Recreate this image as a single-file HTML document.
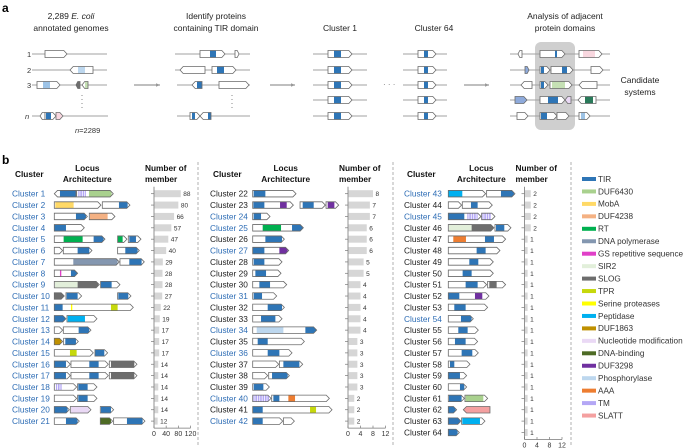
<!DOCTYPE html>
<html><head><meta charset="utf-8"><style>
html,body{margin:0;padding:0;background:#fff;}
svg{display:block;font-family:"Liberation Sans",Arial,sans-serif;}
</style></head><body>
<svg id="fig" width="685" height="448" viewBox="0 0 685 448" xmlns="http://www.w3.org/2000/svg">
<g id="pa">
<text x="2" y="12" font-size="12" font-weight="bold">a</text>
<text x="71" y="19" font-size="8.5" text-anchor="middle" fill="#222">2,289 <tspan font-style="italic">E. coli</tspan></text>
<text x="71" y="31" font-size="8.5" text-anchor="middle" fill="#222">annotated genomes</text>
<text x="216" y="19" font-size="8.5" text-anchor="middle" fill="#222">Identify proteins</text>
<text x="216" y="31" font-size="8.5" text-anchor="middle" fill="#222">containing TIR domain</text>
<text x="340" y="31" font-size="8.5" text-anchor="middle" fill="#222">Cluster 1</text>
<text x="434" y="31" font-size="8.5" text-anchor="middle" fill="#222">Cluster 64</text>
<text x="565" y="19" font-size="8.5" text-anchor="middle" fill="#222">Analysis of adjacent</text>
<text x="565" y="31" font-size="8.5" text-anchor="middle" fill="#222">protein domains</text>
<text x="640" y="83" font-size="8.5" text-anchor="middle" fill="#222">Candidate</text>
<text x="640" y="95" font-size="8.5" text-anchor="middle" fill="#222">systems</text>
<text x="27" y="57" font-size="7.5" fill="#333">1</text>
<text x="27" y="73" font-size="7.5" fill="#333">2</text>
<text x="27" y="88" font-size="7.5" fill="#333">3</text>
<text x="25" y="119" font-size="7.5" font-style="italic" fill="#333">n</text>
<text x="75" y="133" font-size="7.5" fill="#333"><tspan font-style="italic">n</tspan>=2289</text>
<rect x="535" y="42" width="40" height="88" rx="6" fill="#cfcfcf"/>
</g>
<g id="pb">
<text x="2" y="164" font-size="12" font-weight="bold">b</text>
</g>
</svg>
<script>
const NS='http://www.w3.org/2000/svg';
const svg=document.getElementById('fig');
const pa=document.getElementById('pa');
const pb=document.getElementById('pb');
const COL={TIR:'#2e75b6',DUF6430:'#a9d18e',MobA:'#ffd966',DUF4238:'#f4b183',RT:'#00b050',DNApol:'#8497b0',GS:'#e040c8',SIR2:'#e2efda',SLOG:'#6d6d6d',TPR:'#c6d80c',SerP:'#ffff00',Pept:'#00b0f0',DUF1863:'#bf9000',NucMod:'#ead9f5',DNAbind:'#4e6b25',DUF3298:'#7030a0',Phos:'#bdd7ee',AAA:'#ed7d31',TM:'#b4a7f5',SLATT:'#f4a0a0',LB:'#9dc3e6',PK:'#f8d7df',GR:'#2a7a5a',SL:'#8eaadb',LG:'#c5e0b4'};
const legendNames=['TIR','DUF6430','MobA','DUF4238','RT','DNA polymerase','GS repetitive sequence','SIR2','SLOG','TPR','Serine proteases','Peptidase','DUF1863','Nucleotide modification','DNA-binding','DUF3298','Phosphorylase','AAA','TM','SLATT'];
const legendKeys=['TIR','DUF6430','MobA','DUF4238','RT','DNApol','GS','SIR2','SLOG','TPR','SerP','Pept','DUF1863','NucMod','DNAbind','DUF3298','Phos','AAA','TM','SLATT'];
const clusters1=['Cluster 1','Cluster 2','Cluster 3','Cluster 4','Cluster 5','Cluster 6','Cluster 7','Cluster 8','Cluster 9','Cluster 10','Cluster 11','Cluster 12','Cluster 13','Cluster 14','Cluster 15','Cluster 16','Cluster 17','Cluster 18','Cluster 19','Cluster 20','Cluster 21'];
const members1=[88,80,66,57,47,40,29,28,28,27,22,19,17,17,17,14,14,14,14,14,12];
const ticks1=[0,40,80,120];
const clusters2=['Cluster 22','Cluster 23','Cluster 24','Cluster 25','Cluster 26','Cluster 27','Cluster 28','Cluster 29','Cluster 30','Cluster 31','Cluster 32','Cluster 33','Cluster 34','Cluster 35','Cluster 36','Cluster 37','Cluster 38','Cluster 39','Cluster 40','Cluster 41','Cluster 42'];
const members2=[8,7,7,6,6,6,5,5,4,4,4,4,4,3,3,3,3,3,2,2,2];
const ticks2=[0,4,8,12];
const clusters3=['Cluster 43','Cluster 44','Cluster 45','Cluster 46','Cluster 47','Cluster 48','Cluster 49','Cluster 50','Cluster 51','Cluster 52','Cluster 53','Cluster 54','Cluster 55','Cluster 56','Cluster 57','Cluster 58','Cluster 59','Cluster 60','Cluster 61','Cluster 62','Cluster 63','Cluster 64'];
const members3=[2,2,2,2,1,1,1,1,1,1,1,1,1,1,1,1,1,1,1,1,1,1];
const ticks3=[0,4,8,12];
const blue=['Cluster 24','Cluster 25','Cluster 27','Cluster 31','Cluster 34','Cluster 36','Cluster 40','Cluster 42','Cluster 43','Cluster 45','Cluster 54'];
const arch1=[
[[0,65,-1,[[17,65,'TIR']]],[67,177,1,[[72,95,'TM'],[104,172,'DUF6430']]]],
[[0,140,1,[[3,58,'MobA']]],[144,227,1,[[194,220,'TIR']]]],
[[0,99,1,[[65,95,'TIR']]],[105,182,1,[[107,160,'DUF4238']]]],
[[0,90,1,[[0,35,'TIR']]]],
[[0,152,1,[[28,85,'RT'],[118,148,'TIR']]],[190,218,1,[[190,205,'RT']]],[222,260,1,[[225,245,'TIR']]]],
[[0,25,1,[]],[27,113,1,[[70,105,'TIR']]],[190,255,1,[[213,250,'TIR']]]],
[[0,195,1,[[57,190,'DNApol']]],[197,270,1,[[225,262,'TIR']]]],
[[0,70,1,[[17,21,'GS'],[50,68,'TIR']]]],
[[0,135,1,[[2,70,'SIR2'],[70,132,'SLOG']]],[139,197,1,[[140,172,'TIR']]]],
[[0,30,1,[[0,28,'SLOG']]],[35,82,1,[[37,70,'TIR']]],[190,230,1,[[192,222,'TIR']]]],
[[0,237,1,[[0,25,'TIR'],[50,54,'SerP'],[170,190,'TPR']]]],
[[0,35,1,[[0,33,'TIR']]],[38,128,1,[[40,92,'Pept']]]],
[[0,25,1,[]],[27,110,1,[[73,105,'TIR']]]],
[[0,25,1,[[0,22,'DUF1863']]],[28,72,1,[[33,65,'TIR']]]],
[[0,117,1,[[47,67,'TPR']]],[122,160,1,[[122,150,'TIR']]]],
[[0,48,1,[[0,35,'TIR']]],[50,162,1,[[105,133,'TIR']]],[165,248,1,[[170,240,'SLOG']]]],
[[0,48,1,[[0,35,'TIR']]],[50,162,1,[[105,133,'TIR']]],[165,248,1,[[170,240,'SLOG']]]],
[[0,67,1,[[5,22,'TM']]],[70,128,1,[[72,100,'TIR']]]],
[[0,67,1,[]],[70,128,1,[[72,100,'TIR']]]],
[[0,45,1,[[0,40,'TIR']]],[48,110,1,[[50,105,'NucMod']]],[138,178,1,[[140,170,'TIR']]]],
[[0,75,1,[[35,70,'TIR']]],[138,175,1,[[138,170,'DNAbind']]],[178,272,1,[[218,265,'TIR']]]]];
const arch2=[
[[0,130,1,[[3,38,'TIR']]]],
[[0,122,1,[[2,35,'TIR'],[82,102,'DUF3298']]],[142,218,1,[[150,183,'TIR']]],[220,258,1,[[225,245,'DUF3298']]]],
[[0,52,1,[[3,25,'TIR']]]],
[[0,152,1,[[30,85,'RT'],[118,150,'TIR']]]],
[[0,95,1,[[38,88,'TIR']]]],
[[0,108,1,[[0,35,'TIR'],[80,105,'DUF3298']]]],
[[0,88,1,[[3,35,'TIR']]]],
[[0,85,1,[[8,40,'TIR']]]],
[[0,102,1,[[20,52,'TIR']]]],
[[0,72,1,[[3,28,'TIR']]]],
[[0,95,1,[[45,88,'TIR']]]],
[[0,88,1,[[25,68,'TIR']]]],
[[0,192,1,[[12,92,'Phos'],[158,190,'TIR']]]],
[[0,155,1,[[15,45,'TIR']]]],
[[0,118,1,[[45,80,'TIR']]]],
[[0,78,1,[]],[80,150,1,[[92,140,'TIR']]]],
[[0,45,1,[]],[48,110,1,[[58,105,'TIR']]]],
[[0,50,1,[[3,32,'TIR']]]],
[[0,55,1,[[2,50,'TM']]],[57,230,1,[[62,80,'TIR'],[107,127,'AAA']]]],
[[0,238,1,[[0,30,'TIR'],[172,190,'TPR']]]],
[[0,90,1,[[0,30,'TIR']]],[92,125,1,[]]]];
const arch3=[
[[0,112,1,[[0,42,'Pept']]],[115,200,1,[[158,197,'TIR']]]],
[[0,40,1,[]],[42,132,1,[[68,88,'TIR']]]],
[[0,98,1,[[0,48,'TIR'],[57,88,'TM']]],[100,140,1,[[102,128,'TM']]]],
[[0,137,1,[[2,70,'SIR2'],[70,135,'SLOG']]],[140,188,1,[[143,168,'TIR']]]],
[[0,172,1,[[15,53,'AAA'],[110,137,'TIR']]]],
[[0,155,1,[[85,112,'TIR']]]],
[[0,135,1,[[63,90,'TIR']]]],
[[0,135,1,[[43,70,'TIR']]]],
[[0,115,1,[[52,88,'TIR']]],[118,172,1,[[123,145,'SLOG']]]],
[[0,122,1,[[0,33,'TIR'],[80,102,'DUF3298']]]],
[[0,118,1,[[18,52,'TIR']]]],
[[0,75,1,[[38,70,'TIR']]]],
[[0,90,1,[[30,58,'TIR']]]],
[[0,88,1,[[20,52,'TIR']]]],
[[0,90,1,[[40,72,'TIR']]]],
[[0,65,1,[[5,18,'TIR']]]],
[[0,55,1,[[0,35,'TIR']]]],
[[0,55,1,[[35,48,'TIR']]]],
[[0,48,1,[[2,40,'TIR']]],[50,118,1,[[52,105,'DUF6430']]]],
[[0,25,1,[[0,22,'TIR']]],[45,125,-1,[[45,125,'SLATT']]]],
[[0,38,1,[[0,35,'TIR']]],[40,110,1,[[42,95,'Pept']]]],
[[0,33,1,[[0,28,'TIR']]]]];

let clipId=0;
function el(tag,attrs,parent){const e=document.createElementNS(NS,tag);for(const k in attrs)e.setAttribute(k,attrs[k]);(parent||svg).appendChild(e);return e;}
function gene(parent,x0,x1,yc,dir,doms,h,name){
  h=h||7;const hl=Math.min(3.2,(x1-x0)*0.45);const t=yc-h/2,b=yc+h/2;
  let d;
  if(dir>0)d=`M${x0},${t}L${x1-hl},${t}L${x1},${yc}L${x1-hl},${b}L${x0},${b}Z`;
  else d=`M${x0+hl},${t}L${x1},${t}L${x1},${b}L${x0+hl},${b}L${x0},${yc}Z`;
  const g=el('g',{},parent);
  
  
  const id='c'+(clipId++);
  const cp=el('clipPath',{id:id},g);el('path',{d:d},cp);
  el('path',{d:d,fill:'#fff'},g);
  doms.forEach(dm=>{
    const r=el('rect',{x:dm[0],y:t,width:Math.max(0.8,dm[1]-dm[0]),height:h,fill:COL[dm[2]],'clip-path':`url(#${id})`},g);
    
    
    if(dm[2]==='TM'){for(let sx=dm[0]+1.2;sx<dm[1];sx+=2.4)el('rect',{x:sx,y:t,width:0.8,height:h,fill:'#fff','clip-path':`url(#${id})`},g);}
  });
  el('path',{d:d,fill:'none',stroke:'#6a6a6a','stroke-width':0.8},g);
  return g;
}
const panels=[
 {names:clusters1,vals:members1,ticks:ticks1,arch:arch1,lx:12,ax:54.3,bx:154,scale:36.5/120,y0:193.7},
 {names:clusters2,vals:members2,ticks:ticks2,arch:arch2,lx:210,ax:252.7,bx:348,scale:37.5/12,y0:193.7},
 {names:clusters3,vals:members3,ticks:ticks3,arch:arch3,lx:404,ax:448.3,bx:524.5,scale:37.5/12,y0:193.7}];
const pitch=11.37;
panels.forEach((p,pi)=>{
  let tt=el('text',{x:p.lx+3,y:177,'font-size':8.3,'font-weight':'bold',fill:'#111'},pb);tt.textContent='Cluster';
  
  tt=el('text',{x:p.ax+33,y:171,'font-size':8.3,'font-weight':'bold','text-anchor':'middle',fill:'#111'},pb);tt.textContent='Locus';
  
  tt=el('text',{x:p.ax+33,y:182,'font-size':8.3,'font-weight':'bold','text-anchor':'middle',fill:'#111'},pb);tt.textContent='Architecture';
  
  tt=el('text',{x:p.bx-9,y:171,'font-size':8.3,'font-weight':'bold',fill:'#111'},pb);tt.textContent='Number of';
  
  tt=el('text',{x:p.bx-9,y:182,'font-size':8.3,'font-weight':'bold',fill:'#111'},pb);tt.textContent='member';
  
  const yscale=i=>p.y0+i*pitch;
  const xs=v=>p.bx+v*p.scale;
  const yEnd=yscale(p.names.length-1)+7;
  let ax=el('line',{x1:p.bx,x2:p.bx,y1:yscale(0)-7,y2:yEnd,stroke:'#777','stroke-width':0.8},pb);
  
  let bl=el('line',{x1:p.bx,x2:xs(p.ticks[p.ticks.length-1]),y1:yEnd,y2:yEnd,stroke:'#777','stroke-width':0.8},pb);
  
  p.ticks.forEach(t=>{
    el('line',{x1:xs(t),x2:xs(t),y1:yEnd,y2:yEnd-2.5,stroke:'#777','stroke-width':0.7},pb);
    const tl=el('text',{x:xs(t),y:yEnd+8,'font-size':7,'text-anchor':'middle',fill:'#333'},pb);tl.textContent=t;
    
  });
  p.names.forEach((n,i)=>{
    const y=yscale(i);
    const lab=el('text',{x:p.lx,y:y+3,'font-size':8.3,fill:(pi===0||blue.includes(n))?'#2e6db5':'#222'},pb);lab.textContent=n;
    
    
    el('line',{x1:p.bx-3,x2:p.bx,y1:y,y2:y,stroke:'#777','stroke-width':0.7},pb);
    const bar=el('rect',{x:p.bx+0.5,y:y-3.5,width:Math.max(0,xs(p.vals[i])-p.bx-0.5),height:7,fill:'#d6d6d6'},pb);
    
    
    const vl=el('text',{x:xs(p.vals[i])+2.5,y:y+2.5,'font-size':6.5,fill:'#333'},pb);vl.textContent=p.vals[i];
    
    p.arch[i].forEach(gn=>{
      gene(pb,p.ax+gn[0]/3,p.ax+gn[1]/3,y,gn[2],gn[3].map(d=>[p.ax+d[0]/3,p.ax+d[1]/3,d[2]]),6.5,'locus-gene');
    });
  });
});
[198,393,571].forEach(x=>{const l=el('line',{x1:x,x2:x,y1:162,y2:446,stroke:'#aaa','stroke-width':0.9,'stroke-dasharray':'3,2'},pb);
 });
legendNames.forEach((n,i)=>{
  const y=179+i*12.45;
  const s=el('rect',{x:582,y:y-2,width:14,height:4,fill:COL[legendKeys[i]]},pb);
  
  const t=el('text',{x:598,y:y+2.8,'font-size':8.2,fill:'#333'},pb);t.textContent=n;
  
});
function line(x1,x2,y,name){const l=el('line',{x1:x1,x2:x2,y1:y,y2:y,stroke:'#a0a0a0','stroke-width':1.1},pa);
 }
function arrow(x1,x2,y){const l=el('line',{x1:x1,x2:x2,y1:y,y2:y,stroke:'#999','stroke-width':1.2},pa);
 
 el('path',{d:`M${x2},${y}l-4,-1.8v3.6z`,fill:'#999'},pa);}
const rows=[54,70,85,100,116];
line(32,107,54);gene(pa,45,67,54,1,[],7);
line(32,107,70);gene(pa,70,93,70,-1,[[78,85,'Phos']],7);
line(32,107,85);gene(pa,37,60,85,1,[[43,50,'LB']],7);gene(pa,76,80,85,-1,[[76,80,'SLOG']],7);gene(pa,82,88,85,-1,[[85,88,'LG']],7);
line(32,108,116);gene(pa,40,45,116,-1,[],7);gene(pa,45,56,116,1,[[46,51,'TIR']],7);gene(pa,56,63,116,1,[[56,62,'PK']],7);
el('line',{x1:82,x2:82,y1:95,y2:110,stroke:'#888','stroke-width':1,'stroke-dasharray':'1,3'},pa);
arrow(134,160,85);
line(175,250,54);gene(pa,200,225,54,1,[[210,216,'TIR']],7);gene(pa,235,239,54,1,[],7);
line(175,250,70);gene(pa,180,205,70,-1,[],7);gene(pa,212,236,70,1,[[217,224,'TIR']],7);
line(177,250,85);gene(pa,192,202,85,-1,[[197,202,'TIR']],7);gene(pa,219,249,85,1,[],7);
line(177,250,116);gene(pa,190,200,116,1,[[192,195,'TIR']],7);gene(pa,200,211,116,-1,[[208,211,'TIR']],7);
el('line',{x1:232,x2:232,y1:95,y2:110,stroke:'#888','stroke-width':1,'stroke-dasharray':'1,3'},pa);
arrow(270,295,85);
rows.forEach(y=>{line(313,367,y);gene(pa,328,352,y,1,[[334,341,'TIR']],7);
  line(403,447,y);gene(pa,418,436,y,1,[[424,428,'TIR']],7);});
const dots=el('text',{x:383,y:87,'font-size':8,fill:'#777'},pa);dots.textContent='· · ·';

arrow(464,489,85);
rows.forEach(y=>line(510,610,y));
gene(pa,518,522,54,-1,[],7);gene(pa,540,565,54,1,[[555,557,'TIR']],7);gene(pa,579,602,54,1,[[583,595,'PK']],7);
gene(pa,525,529,70,1,[[525,529,'SL']],7);gene(pa,540,550,70,1,[[541,544,'TIR']],7);gene(pa,551,573,70,1,[[562,567,'TIR']],7);gene(pa,591,603,70,1,[],7);
gene(pa,521,532,85,-1,[],7);gene(pa,540,548,85,1,[[541,544,'TIR']],7);gene(pa,550,572,85,1,[[552,565,'LG']],7);gene(pa,579,597,85,-1,[],7);
gene(pa,515,527,100,1,[[515,527,'SL']],7);gene(pa,540,565,100,1,[[548,558,'TIR']],7);gene(pa,565,571,100,-1,[[565,571,'NucMod']],7);gene(pa,578,596,100,-1,[[585,593,'GR']],7);
gene(pa,517,528,116,1,[],7);gene(pa,540,557,116,1,[[541,547,'TIR']],7);gene(pa,557,569,116,1,[],7);gene(pa,579,590,116,1,[[581,585,'LB']],7);
</script>
</body></html>
